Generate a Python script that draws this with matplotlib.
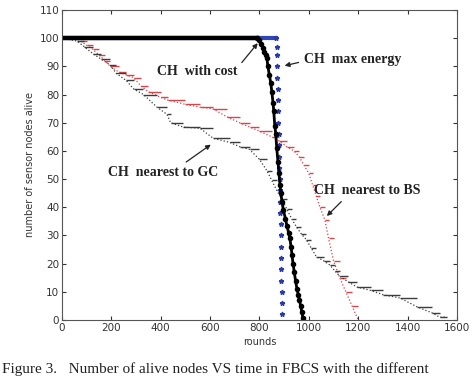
import matplotlib
matplotlib.use("Agg")
import matplotlib.pyplot as plt

# CH nearest to BS (red)
bs_x = [0, 60, 75, 100, 125, 150, 175, 195, 230, 260, 290, 320, 350, 400, 430, 500, 560, 610, 670, 720,
        760, 800, 850, 880, 910, 940, 960, 980, 1000, 1015, 1030, 1045, 1065, 1080, 1100, 1125, 1150, 1175, 1200]
bs_y = [100, 100, 99, 97.5, 96, 94, 92, 90, 88, 87, 86, 83, 81, 79, 78, 76.5, 75.5, 75, 72, 70,
        68.5, 67, 65, 63.5, 61.5, 60, 58, 55, 52, 48, 44, 40, 35.5, 29, 21, 15, 10, 5, 0]

# CH nearest to GC (grey)
gc_x = [0, 60, 90, 125, 160, 195, 220, 260, 290, 330, 385, 425, 440, 490, 560, 612, 680, 720, 760, 800,
        830, 850, 870, 890, 910, 930, 950, 970, 990, 1010, 1030, 1060, 1085, 1105, 1125, 1160, 1195, 1250,
        1300, 1370, 1440, 1500, 1530]
gc_y = [100, 99, 97, 94.5, 92.5, 90.5, 87.5, 85, 82, 80, 75.5, 73, 70, 68.5, 68, 64.5, 63, 61.5, 60.5, 57,
        53, 49.5, 46, 43, 39.5, 36, 33, 30.5, 28.5, 25.5, 22.5, 21, 19.5, 17.5, 15.5, 13.5, 11.7, 10.5,
        9, 7.8, 4.6, 2.5, 1]
gc_end = 1560

# CH with cost (black)
cost_x = [0, 790, 800, 808, 814, 820, 826, 830, 834, 840, 846, 850, 855, 858, 862, 866, 870, 875, 879,
          883, 887, 891, 897, 905, 911, 918, 923, 928, 932, 936, 941, 946, 952, 957, 962, 967, 971, 976]
cost_y = [100, 100, 99.5, 98, 96.5, 95, 94, 93, 90, 87, 84, 81, 77, 74, 69, 66, 61, 56, 52,
          48, 45, 42, 39, 36, 33.5, 31, 29, 26, 23, 20, 17, 14, 11, 9, 7, 5, 3, 0.7]

# CH max energy (blue)
me_x = [0, 868, 870, 871, 872, 873, 874, 875, 876, 877, 878, 879, 880, 881, 882, 883, 884, 885, 886,
        887, 888, 888, 889, 889, 890, 890, 891]
me_y = [100, 100, 97, 94, 90, 86, 82, 78, 74, 70, 66, 62, 58, 54, 50, 46, 42, 38, 34,
        30, 26, 22, 18, 14, 10, 6, 2]

fig = plt.figure(figsize=(4.74, 3.77), dpi=100)
ax = fig.add_axes([0.1308, 0.1512, 0.8332, 0.8223])

red = "#d9434b"
grey = "#3c3c3c"

# staircase style: horizontal runs plus dotted joins
ax.plot(bs_x, bs_y, ls=":", lw=0.9, color=red)
ax.hlines(bs_y[:-1], bs_x[:-1], bs_x[1:], color=red, lw=1.0)
ax.plot(gc_x + [gc_end], gc_y + [gc_y[-1]], ls=":", lw=0.9, color=grey)
ax.hlines(gc_y, gc_x, gc_x[1:] + [gc_end], color=grey, lw=1.0)

ax.plot(me_x[:2], me_y[:2], color="#3046b8", lw=3)
ax.plot(me_x[1:], me_y[1:], ls="none", marker="*", ms=3.5, color="#2b3aa8")

ax.plot(cost_x[:2], cost_y[:2], color="black", lw=3.2)
ax.plot(cost_x[1:], cost_y[1:], color="black", lw=2.0, marker=".", ms=6)

ax.set_xlim(0, 1600)
ax.set_ylim(0, 110)
ax.set_xticks(range(0, 1601, 200))
ax.set_yticks(range(0, 111, 10))
ax.tick_params(direction="in", length=3, top=True, right=True, labelsize=7.5,
               colors="#333333", pad=2)
for lab in ax.get_xticklabels() + ax.get_yticklabels():
    lab.set_family("DejaVu Sans")
for s in ax.spines.values():
    s.set_color("#555555")
    s.set_linewidth(0.8)

ax.set_xlabel("rounds", fontsize=7, family="DejaVu Sans", color="#333333", labelpad=3)
ax.set_ylabel("number of sensor nodes alive", fontsize=7, family="DejaVu Sans",
              color="#333333", labelpad=3)

tf = dict(family="Liberation Serif", fontweight="bold", fontsize=10, color="#222222")
ap = dict(arrowstyle="-|>", color="#222222", lw=0.9, mutation_scale=7)
ax.annotate("CH  with cost", xy=(800, 99), xytext=(547, 88), ha="center", va="center",
            arrowprops=dict(ap, relpos=(1.0, 0.8)), **tf)
ax.annotate("CH  max energy", xy=(891, 90), xytext=(1178, 92.3), ha="center", va="center",
            arrowprops=dict(ap, relpos=(0.0, 0.4)), **tf)
ax.annotate("CH  nearest to GC", xy=(612, 62.8), xytext=(411, 52.2), ha="center", va="center",
            arrowprops=dict(ap, relpos=(0.65, 1.0)), **tf)
ax.annotate("CH  nearest to BS", xy=(1065, 36.2), xytext=(1237, 46), ha="center", va="center",
            arrowprops=dict(ap, relpos=(0.3, 0.0)), **tf)

fig.text(0.004, 0.011, "Figure 3.   Number of alive nodes VS time in FBCS with the different",
         ha="left", va="baseline", family="Liberation Serif", fontsize=11, color="#222222")

fig.savefig("out.png", dpi=100)
